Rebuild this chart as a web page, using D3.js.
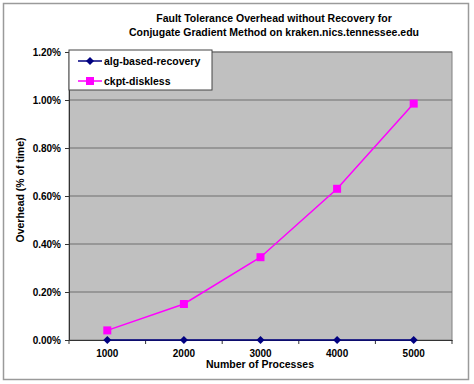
<!DOCTYPE html>
<html>
<head>
<meta charset="utf-8">
<script src="https://cdn.jsdelivr.net/npm/d3@7"></script>
<style>
  body { margin: 0; background: #fff; }
  text { font-family: "Liberation Sans", Arial, sans-serif; font-weight: bold; }
</style>
</head>
<body>
<svg id="chart"></svg>
<script>
// chart data
const processes = ["1000", "2000", "3000", "4000", "5000"];
const algBased = [0, 0, 0, 0, 0];
const ckptDiskless = [0.0004, 0.0015, 0.00345, 0.0063, 0.00985];
const yTicks = [0, 0.002, 0.004, 0.006, 0.008, 0.010, 0.012];

const series = [
    { name: "alg-based-recovery", values: algBased, color: "#000080", marker: "diamond" },
    { name: "ckpt-diskless", values: ckptDiskless, color: "#FF00FF", marker: "square" }
];

const width = 474, height = 384;
const svg = d3.select("#chart").attr("width", width).attr("height", height);

// outer chart border
svg.append("rect")
    .attr("x", 3.5).attr("y", 3.5)
    .attr("width", 465).attr("height", 376)
    .attr("fill", "#fff").attr("stroke", "#9a9a9a").attr("stroke-width", 1.5);

const plot = { left: 69, right: 452, top: 52, bottom: 340 };

const x = d3.scaleBand().domain(processes).range([plot.left, plot.right]);
const y = d3.scaleLinear().domain([0, 0.012]).range([plot.bottom, plot.top]);

// plot area
svg.append("rect")
    .attr("x", plot.left).attr("y", plot.top)
    .attr("width", plot.right - plot.left).attr("height", plot.bottom - plot.top)
    .attr("fill", "#C0C0C0").attr("stroke", "#808080");

// gridlines
svg.append("g")
    .selectAll("line")
    .data(yTicks.slice(1))
    .join("line")
    .attr("x1", plot.left).attr("x2", plot.right)
    .attr("y1", d => y(d)).attr("y2", d => y(d))
    .attr("stroke", "#6e6e6e").attr("stroke-width", 1);

// y axis
const yAxis = d3.axisLeft(y).tickValues(yTicks).tickSize(4).tickFormat(d3.format(".2%"));
svg.append("g")
    .attr("transform", `translate(${plot.left},0)`)
    .call(yAxis)
    .call(g => g.select(".domain").attr("stroke", "#333"))
    .call(g => g.selectAll(".tick line").attr("stroke", "#333"))
    .call(g => g.selectAll("text").attr("font-size", 10).attr("fill", "#000").attr("x", -8));

// x axis: ticks at band boundaries
const xAxis = d3.axisBottom(x).tickSize(0).tickPadding(10);
svg.append("g")
    .attr("transform", `translate(0,${plot.bottom})`)
    .call(xAxis)
    .call(g => g.select(".domain").attr("stroke", "#333"))
    .call(g => g.selectAll("text").attr("font-size", 10).attr("fill", "#000"));

svg.append("g")
    .selectAll("line")
    .data(processes.concat(["end"]))
    .join("line")
    .attr("x1", (d, i) => plot.left + i * x.bandwidth())
    .attr("x2", (d, i) => plot.left + i * x.bandwidth())
    .attr("y1", plot.bottom).attr("y2", plot.bottom + 4)
    .attr("stroke", "#333");

// axis titles
svg.append("text")
    .attr("x", 260).attr("y", 368)
    .attr("text-anchor", "middle").attr("font-size", 10.5)
    .text("Number of Processes");

svg.append("text")
    .attr("transform", "translate(24,190) rotate(-90)")
    .attr("text-anchor", "middle").attr("font-size", 10.5)
    .text("Overhead (% of time)");

// chart title
svg.append("text")
    .attr("x", 274).attr("y", 22)
    .attr("text-anchor", "middle").attr("font-size", 10.5)
    .text("Fault Tolerance Overhead without Recovery for");
svg.append("text")
    .attr("x", 274).attr("y", 36)
    .attr("text-anchor", "middle").attr("font-size", 10.5)
    .text("Conjugate Gradient Method on kraken.nics.tennessee.edu");

// series
const line = d3.line()
    .x((d, i) => x(processes[i]) + x.bandwidth() / 2)
    .y(d => y(d));

function drawMarker(g, type, color) {
    if (type === "diamond") {
        g.append("path").attr("d", "M0,-4L4,0L0,4L-4,0Z").attr("fill", color);
    } else {
        g.append("rect").attr("x", -4).attr("y", -4).attr("width", 8).attr("height", 8).attr("fill", color);
    }
}

series.slice().reverse().forEach(s => {
    svg.append("path")
        .datum(s.values)
        .attr("d", line)
        .attr("fill", "none")
        .attr("stroke", s.color)
        .attr("stroke-width", 1.5);
    svg.append("g")
        .selectAll("g")
        .data(s.values)
        .join("g")
        .attr("transform", (d, i) => `translate(${x(processes[i]) + x.bandwidth() / 2},${y(d)})`)
        .each(function() { drawMarker(d3.select(this), s.marker, s.color); });
});

// legend
const legend = svg.append("g");
legend.append("rect")
    .attr("x", 69).attr("y", 50)
    .attr("width", 143).attr("height", 40)
    .attr("fill", "#fff").attr("stroke", "#444");

series.forEach((s, i) => {
    const ly = 61 + i * 20;
    legend.append("line")
        .attr("x1", 78).attr("x2", 102)
        .attr("y1", ly).attr("y2", ly)
        .attr("stroke", s.color).attr("stroke-width", 1.5);
    const m = legend.append("g").attr("transform", `translate(90,${ly})`);
    drawMarker(m, s.marker, s.color);
    legend.append("text")
        .attr("x", 104).attr("y", ly + 4)
        .attr("font-size", 10.5)
        .text(s.name);
});
</script>
</body>
</html>
